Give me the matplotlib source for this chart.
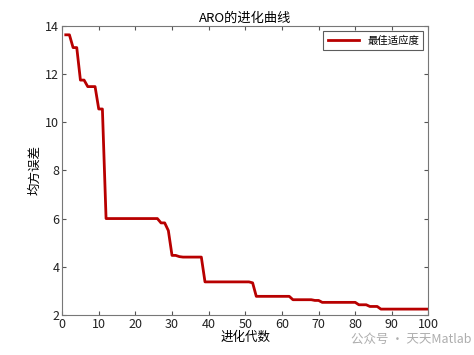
import matplotlib
matplotlib.use('Agg')
import matplotlib.pyplot as plt
import numpy as np

plt.rcParams['font.family'] = ['Noto Sans CJK SC', 'DejaVu Sans']

# best fitness per generation
gen = np.arange(1, 101)
fit = ([13.63, 13.63, 13.1, 13.1, 11.75, 11.75, 11.48, 11.48, 11.48, 10.55,
        10.55] + [6.0] * 15 + [5.82, 5.82, 5.5] + [4.47, 4.47, 4.42] + [4.4] * 6
       + [3.37] * 13 + [3.33] + [2.77] * 10 + [2.63] * 6 + [2.6] * 2
       + [2.52] * 10 + [2.42] * 3 + [2.35] * 3 + [2.24] * 14)

fig = plt.figure(figsize=(4.74, 3.55), dpi=100)
ax = fig.add_axes([0.131, 0.113, 0.773, 0.814])

ax.plot(gen, fit, color=(0.72, 0.0, 0.0), lw=2, label='最佳适应度')

ax.set_xlim(0, 100)
ax.set_ylim(2, 14)
ax.set_xticks(np.arange(0, 101, 10))
ax.set_yticks(np.arange(2, 15, 2))
ax.tick_params(direction='in', top=True, right=True, labelsize=9,
               length=3, color='#555555', labelcolor='#222222', pad=2)
for s in ax.spines.values():
    s.set_color('#777777')
    s.set_linewidth(0.8)

ax.set_title('ARO的进化曲线', fontsize=9.5, pad=3)
ax.set_xlabel('进化代数', fontsize=9, labelpad=0)
ax.set_ylabel('均方误差', fontsize=9, labelpad=3)

leg = ax.legend(loc='upper right', fontsize=7.5, fancybox=False,
                edgecolor='#333333', handlelength=3, borderpad=0.4)
leg.get_frame().set_linewidth(0.8)

fig.text(0.74, 0.035, '公众号 · 天天Matlab', fontsize=9, color='#999999', alpha=0.8)

fig.savefig('out.png', dpi=100)
